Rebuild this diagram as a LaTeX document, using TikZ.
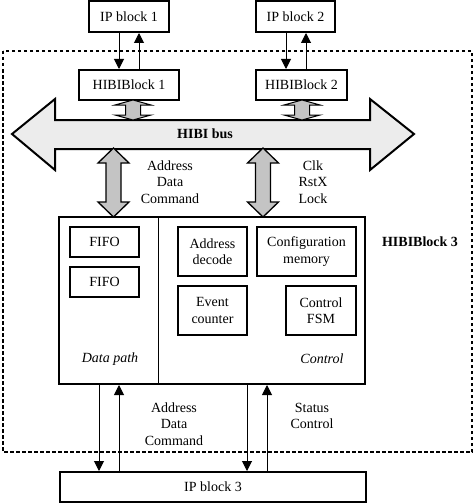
\documentclass[tikz,border=0pt]{standalone}
\usepackage{fontspec}
\setmainfont{Liberation Serif}
\usetikzlibrary{positioning, arrows.meta}
\definecolor{busGrey}{HTML}{ECECEC}
\definecolor{linkGrey}{HTML}{C4C4C4}

\begin{document}
\fontsize{14}{16.5}\selectfont
\begin{tikzpicture}[x=1pt, y=-1pt,
    blk/.style={draw, line width=2pt, fill=white, inner sep=0pt},
    sub/.style={draw, line width=1.1pt, inner sep=0pt, align=center},
    sig/.style={line width=1pt, -{Triangle[length=10pt,width=10pt]}},
    fat/.style={draw, line width=1.3pt, fill=linkGrey, line join=miter}]
    \useasboundingbox (0,0) rectangle (474,503);

    % dashed border of the HIBI wrapper
    \draw[line width=1.1pt, dash pattern=on 3.5pt off 2.5pt] (3,51) rectangle (472,452);

    \node[blk, minimum width=80pt, minimum height=31pt] (ip1) at (129,16.5) {IP block 1};
    \node[blk, minimum width=79pt, minimum height=31pt] (ip2) at (295.5,16.5) {IP block 2};
    \node[blk, minimum width=100pt, minimum height=30pt] (hb1) at (129,85) {HIBIBlock 1};
    \node[blk, minimum width=91pt, minimum height=30pt] (hb2) at (301.5,85) {HIBIBlock 2};

    % the bus
    \filldraw[draw=black, line width=2pt, fill=busGrey, line join=miter]
      (12,134) -- (55,99) -- (55,120) -- (370,120) -- (370,99) -- (414,134)
      -- (370,170) -- (370,149) -- (55,149) -- (55,170) -- cycle;
    \node[font=\bfseries] (bus) at (205,134) {HIBI bus};

    \foreach \cx in {133,302}
      \filldraw[fat, line width=1pt] (\cx,100) -- (\cx+18,105) -- (\cx+7.5,105) -- (\cx+7.5,115)
        -- (\cx+18,115) -- (\cx,120) -- (\cx-18,115) -- (\cx-7.5,115) -- (\cx-7.5,105)
        -- (\cx-18,105) -- cycle;
    \foreach \cx in {113.5,263}
      \filldraw[fat] (\cx,148) -- (\cx+15.5,163) -- (\cx+7.5,163) -- (\cx+7.5,202)
        -- (\cx+15.5,202) -- (\cx,217) -- (\cx-15.5,202) -- (\cx-7.5,202) -- (\cx-7.5,163)
        -- (\cx-15.5,163) -- cycle;

    \node[align=center] (busa) at (170,182) {Address\\Data\\Command};
    \node[align=center] (busb) at (313,182) {Clk\\RstX\\Lock};

    % HIBIBlock 3
    \node[blk, minimum width=306pt, minimum height=167pt] (hb3) at (212,300.5) {};
    \coordinate (dv) at (158,300);
    \draw[line width=1pt] (dv |- hb3.north) -- (dv |- hb3.south);
    \node[font=\bfseries] (hb3name) at (420,242) {HIBIBlock 3};

    \node[sub, minimum width=69pt, minimum height=30pt] (fifo1) at (104.5,242) {FIFO};
    \node[sub, minimum width=69pt, minimum height=30pt] (fifo2) at (104.5,282) {FIFO};
    \node[sub, minimum width=69pt, minimum height=49pt] (addr) at (212.5,251.5) {Address\\decode};
    \node[sub, minimum width=99pt, minimum height=49pt] (conf) at (306.5,251.5) {Configuration\\memory};
    \node[sub, minimum width=69pt, minimum height=49pt] (evc) at (212.5,310.5) {Event\\counter};
    \node[sub, minimum width=70pt, minimum height=49pt] (fsm) at (321,310.5) {Control\\FSM};
    \node[font=\itshape] (dpath) at (110,359) {Data path};
    \node[font=\itshape] (ctrl) at (322,359) {Control};

    \node[blk, minimum width=306pt, minimum height=30pt] (ip3) at (213,487) {IP block 3};

    % point-to-point signals
    \draw[sig] ([xshift=-10pt]ip1.south) -- ([xshift=-10pt]hb1.north);
    \draw[sig] ([xshift=10pt]hb1.north) -- ([xshift=10pt]ip1.south);
    \draw[sig] ([xshift=-9.5pt]ip2.south) -- ([xshift=-9.5pt]ip2.south |- hb2.north);
    \draw[sig] ([xshift=10.5pt]ip2.south |- hb2.north) -- ([xshift=10.5pt]ip2.south);

    \draw[sig] ([xshift=-113pt]hb3.south) -- ([xshift=-113pt]hb3.south |- ip3.north);
    \draw[sig] ([xshift=-93pt]hb3.south |- ip3.north) -- ([xshift=-93pt]hb3.south);
    \draw[sig] ([xshift=35pt]hb3.south) -- ([xshift=35pt]hb3.south |- ip3.north);
    \draw[sig] ([xshift=55pt]hb3.south |- ip3.north) -- ([xshift=55pt]hb3.south);

    \node[align=center] (ipa) at (174,424) {Address\\Data\\Command};
    \node[align=center] (ipb) at (312,416) {Status\\Control};
\end{tikzpicture}
\end{document}
